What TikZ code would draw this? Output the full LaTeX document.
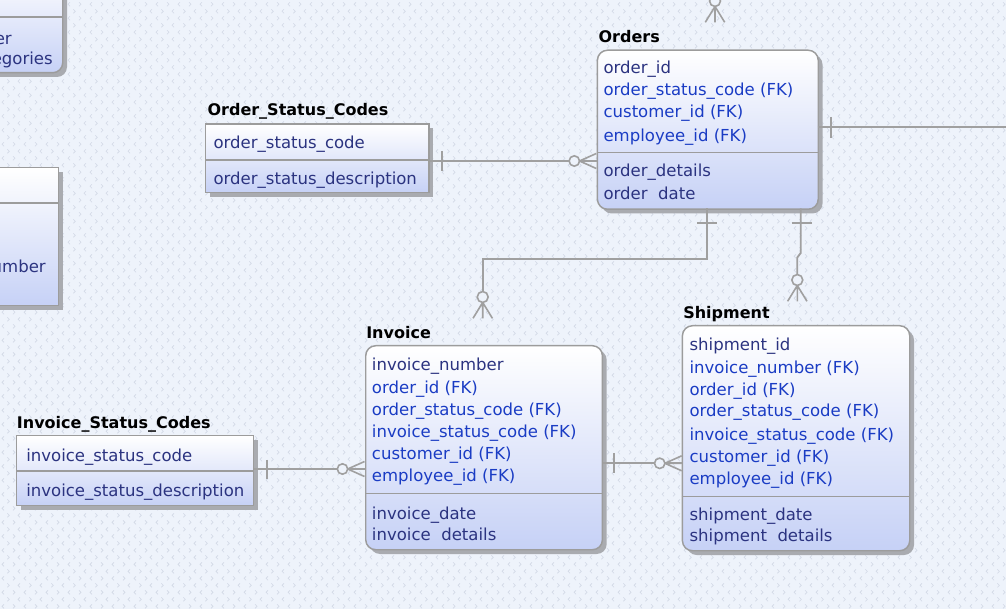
\documentclass[tikz,border=0pt]{standalone}
\usepackage{fontspec}
\setmainfont{DejaVu Sans}
\usetikzlibrary{calc,patterns}
\definecolor{bg}{HTML}{EEF3FB}
\definecolor{pat}{HTML}{D2D9E6}
\definecolor{pkc}{HTML}{2B3380}
\definecolor{fkc}{HTML}{1A3CC4}
\definecolor{bord}{HTML}{9C9C9C}
\definecolor{relc}{HTML}{A0A0A0}
\definecolor{boxlo}{HTML}{C6D1F6}
\definecolor{shad}{HTML}{A9ABB0}

\pgfdeclarepatternformonly{chev}{\pgfqpoint{-1pt}{-1pt}}{\pgfqpoint{17.5pt}{11.5pt}}{\pgfqpoint{16.5pt}{10.5pt}}{%
  \pgfsetlinewidth{0.45pt}%
  \pgfpathmoveto{\pgfqpoint{3pt}{0.5pt}}\pgfpathlineto{\pgfqpoint{1.5pt}{2pt}}\pgfpathlineto{\pgfqpoint{3pt}{3.5pt}}%
  \pgfpathmoveto{\pgfqpoint{9.75pt}{0.5pt}}\pgfpathlineto{\pgfqpoint{11.25pt}{2pt}}\pgfpathlineto{\pgfqpoint{9.75pt}{3.5pt}}%
  \pgfpathmoveto{\pgfqpoint{5.5pt}{5.75pt}}\pgfpathlineto{\pgfqpoint{7pt}{7.25pt}}\pgfpathlineto{\pgfqpoint{5.5pt}{8.75pt}}%
  \pgfpathmoveto{\pgfqpoint{15pt}{5.75pt}}\pgfpathlineto{\pgfqpoint{13.5pt}{7.25pt}}\pgfpathlineto{\pgfqpoint{15pt}{8.75pt}}%
  \pgfusepath{stroke}}

\tikzset{
  ebox/.style={draw=bord, line width=1.1pt, top color=white, bottom color=boxlo,
    inner sep=0pt, anchor=north west},
  sepline/.style={draw=bord, line width=1pt},
  pk/.style={text=pkc, anchor=base west, inner sep=0pt},
  fk/.style={text=fkc, anchor=base west, inner sep=0pt},
  pkr/.style={text=pkc, anchor=base east, inner sep=0pt},
  ttl/.style={anchor=base west, inner sep=0pt, font=\fontsize{12}{14}\selectfont\bfseries},
  rel/.style={draw=relc, line width=1.4pt},
  pics/crowR/.style={code={
    \draw[rel, line width=1.2pt, fill=bg] (0,0) circle[radius=3.9pt];
    \draw[rel, line width=1.2pt] (5.2,0) -- (22,-7.5) (5.2,0) -- (22,7.5) (5.2,0) -- (22,0);}},
  pics/crowD/.style={code={
    \draw[rel, line width=1.2pt, fill=bg] (0,0) circle[radius=4.1pt];
    \draw[rel, line width=1.2pt] (0,5.5) -- (-9.7,21.3) (0,5.5) -- (9.7,21.3) (0,5.5) -- (0,21.3);}}
}

\newcommand\erbox[6]{%
  \fill[shad, rounded corners=#6] ($(#2,#3)+(5,5)$) rectangle ++(#4,#5);
  \node[ebox, rounded corners=#6, minimum width={#4*0.75pt}, minimum height={#5*0.75pt}] (#1) at (#2,#3) {};
}

\begin{document}
\begin{tikzpicture}[x=0.75pt, y=-0.75pt, font=\fontsize{12.4}{14}\selectfont]
\useasboundingbox (0,0) rectangle (1006,609);
\fill[bg] (0,0) rectangle (1006,609);
\fill[pattern=chev, pattern color=pat] (0,0) rectangle (1006,609);
\clip (0,0) rectangle (1006,609);

% ---------- partial boxes ----------
\erbox{tl}{-30}{-30}{92}{102}{7.5pt}
\draw[sepline] (-30,17) -- (62,17);
\node[pkr] at (12,45) {er};
\node[pkr] at (53,65) {egories};

\erbox{lp}{-30}{167}{88}{138}{0pt}
\draw[sepline] (-30,203) -- (58,203);
\node[pkr] at (46,273) {umber};

% ---------- Order_Status_Codes ----------
\erbox{osc}{205}{123.3}{223.3}{68.4}{0pt}
\draw[sepline] (205,160) -- (428.3,160);
\node[ttl] (osct) at (207.3,115.7) {Order\_Status\_Codes};
\node[pk] (osc1) at (213.3,149) {order\_status\_code};
\node[pk] (osc2) at (213.3,185) {order\_status\_description};

% ---------- Orders ----------
\erbox{orders}{596.7}{49.5}{220.8}{159}{7.5pt}
\draw[sepline] (596.7,152.7) -- (817.5,152.7);
\node[ttl] (ordt) at (598.3,42.7) {Orders};
\node[pk] (o1) at (603.3,74) {order\_id};
\node[fk] (o2) at (603.3,96) {order\_status\_code (FK)};
\node[fk] (o3) at (603.3,118) {customer\_id (FK)};
\node[fk] (o4) at (603.3,141.5) {employee\_id (FK)};
\node[pk] (o5) at (603.3,177) {order\_details};
\node[pk] (o6) at (603.3,200) {order\ \ date};

% ---------- Invoice ----------
\erbox{inv}{365}{345}{236.7}{204}{7.5pt}
\draw[sepline] (365,493.3) -- (601.7,493.3);
\node[ttl] (invt) at (366,338.3) {Invoice};
\node[pk] (i1) at (371.7,370.7) {invoice\_number};
\node[fk] (i2) at (371.7,393.3) {order\_id (FK)};
\node[fk] (i3) at (371.7,415) {order\_status\_code (FK)};
\node[fk] (i4) at (371.7,437.3) {invoice\_status\_code (FK)};
\node[fk] (i5) at (371.7,459.3) {customer\_id (FK)};
\node[fk] (i6) at (371.7,481.7) {employee\_id (FK)};
\node[pk] (i7) at (371.7,519.3) {invoice\_date};
\node[pk] (i8) at (371.7,540) {invoice\ \ details};

% ---------- Shipment ----------
\erbox{shp}{681.7}{325}{227.3}{225}{7.5pt}
\draw[sepline] (681.7,496.7) -- (909,496.7);
\node[ttl] (shpt) at (683,318.3) {Shipment};
\node[pk] (s1) at (689.3,350.7) {shipment\_id};
\node[fk] (s2) at (689.3,373.3) {invoice\_number (FK)};
\node[fk] (s3) at (689.3,395) {order\_id (FK)};
\node[fk] (s4) at (689.3,416.7) {order\_status\_code (FK)};
\node[fk] (s5) at (689.3,440) {invoice\_status\_code (FK)};
\node[fk] (s6) at (689.3,462.3) {customer\_id (FK)};
\node[fk] (s7) at (689.3,484.3) {employee\_id (FK)};
\node[pk] (s8) at (689.3,520) {shipment\_date};
\node[pk] (s9) at (689.3,541.7) {shipment\ \ details};

% ---------- Invoice_Status_Codes ----------
\erbox{isc}{16}{435}{236.7}{70}{0pt}
\draw[sepline] (16,471) -- (252.7,471);
\node[ttl] (isct) at (16.7,428.3) {Invoice\_Status\_Codes};
\node[pk] (isc1) at (26,461.7) {invoice\_status\_code};
\node[pk] (isc2) at (26,496.7) {invoice\_status\_description};

% ---------- connection points ----------
\coordinate (oscR) at (osc.east |- 0,161);
\coordinate (ordL) at (orders.west |- 0,161);
\coordinate (iscR) at (isc.east |- 0,469);
\coordinate (invL) at (inv.west |- 0,469);
\coordinate (invR) at (inv.east |- 0,463.3);
\coordinate (shpL) at (shp.west |- 0,463.3);
\coordinate (ordB1) at (707.3,208.5);
\coordinate (invTop) at (482.7,297);
\coordinate (ordB2) at (800.7,208.5);
\coordinate (shpTop) at (797.3,280);
\coordinate (ordTop) at (715,1);
\coordinate (upEnd) at (715,-12);
\coordinate (ordR) at (817.5,127.3);
\coordinate (rightEnd) at (1012,127.3);

% ---------- relationships ----------
\draw[rel] (oscR) -- (ordL);
\draw[rel] (442,151) -- (442,171);
\pic at (574.3,161) {crowR};

\draw[rel] (iscR) -- (invL);
\draw[rel] (266.7,459.5) -- (266.7,478.5);
\pic at (342.5,469) {crowR};

\draw[rel] (invR) -- (shpL);
\draw[rel] (614,453) -- (614,473);
\pic at (659.7,463.3) {crowR};

\draw[rel] (ordB1) -- (707.3,259.3) -- (482.7,259.3) -- ($(invTop)+(0,-5.5)$);
\draw[rel] (697,222.7) -- (717.3,222.7);
\pic at (invTop) {crowD};

\draw[rel] (ordB2) -- (800.7,253) -- (797.3,257.5) -- ($(shpTop)+(0,-5.5)$);
\draw[rel] (791.7,222.7) -- (811.7,222.7);
\pic at (shpTop) {crowD};

\draw[rel] (upEnd) -- ($(ordTop)+(0,-5.5)$);
\pic at (ordTop) {crowD};

\draw[rel] (ordR) -- (rightEnd);
\draw[rel] (831,117) -- (831,138);
\end{tikzpicture}
\end{document}
